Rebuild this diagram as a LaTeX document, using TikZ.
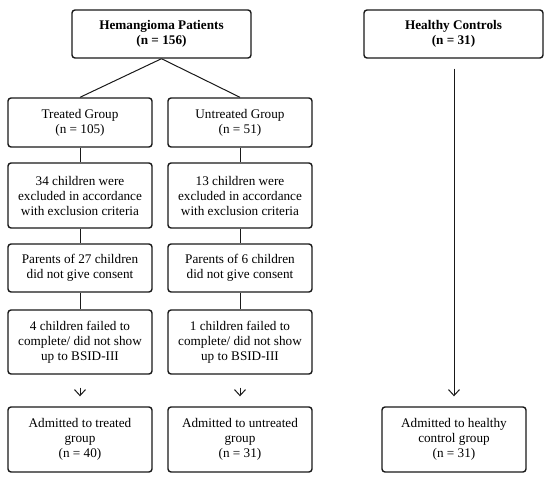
\documentclass[tikz,border=0pt]{standalone}
\usepackage{fontspec}
\setmainfont{Liberation Serif}
\usetikzlibrary{arrows.meta}
\begin{document}
\begin{tikzpicture}[x=1pt,y=-1pt,
  box/.style={draw=black!90, line width=1.4pt, rounded corners=3pt, align=center,
    font=\fontsize{13.2}{15}\selectfont, inner sep=0pt},
  conn/.style={draw=black!90, line width=1pt},
  arr/.style={conn, -{Straight Barb[length=6pt,width=11pt,line width=1pt]}}]
\useasboundingbox (0,0) rectangle (550,480);
\node[box, minimum width=179pt, minimum height=48pt, font=\fontsize{13.2}{15}\selectfont\bfseries] (hp) at (161.5,34) {Hemangioma Patients\\(n = 156)};
\node[box, minimum width=179pt, minimum height=48pt, font=\fontsize{13.2}{15}\selectfont\bfseries] (hc) at (453.5,34) {Healthy Controls\\(n = 31)};
\node[box, minimum width=144pt, minimum height=49pt] (tg) at (80,122.5) {Treated Group\\(n = 105)};
\node[box, minimum width=144pt, minimum height=49pt] (ug) at (240,122.5) {Untreated Group\\(n = 51)};
\node[box, minimum width=144pt, minimum height=65pt] (te) at (80,195.5) {34 children were\\excluded in accordance\\with exclusion criteria};
\node[box, minimum width=144pt, minimum height=65pt] (ue) at (240,195.5) {13 children were\\excluded in accordance\\with exclusion criteria};
\node[box, minimum width=144pt, minimum height=48pt] (tp) at (80,268) {Parents of 27 children\\did not give consent};
\node[box, minimum width=144pt, minimum height=48pt] (up) at (240,268) {Parents of 6 children\\did not give consent};
\node[box, minimum width=144pt, minimum height=64pt] (tf) at (80,342) {4 children failed to\\complete/ did not show\\up to BSID-III};
\node[box, minimum width=144pt, minimum height=64pt] (uf) at (240,342) {1 children failed to\\complete/ did not show\\up to BSID-III};
\node[box, minimum width=144pt, minimum height=65pt] (ta) at (80,439.5) {Admitted to treated\\group\\(n = 40)};
\node[box, minimum width=144pt, minimum height=65pt] (ua) at (240,439.5) {Admitted to untreated\\group\\(n = 31)};
\node[box, minimum width=144pt, minimum height=65pt] (ha) at (454,439.5) {Admitted to healthy\\control group\\(n = 31)};
\draw[conn] (hp.south) -- (tg.north);
\draw[conn] (hp.south) -- (ug.north);
\draw[conn] (tg) -- (te);
\draw[conn] (te) -- (tp);
\draw[conn] (tp) -- (tf);
\draw[conn] (ug) -- (ue);
\draw[conn] (ue) -- (up);
\draw[conn] (up) -- (uf);
\draw[arr, shorten <=13pt, shorten >=10pt] (tf) -- (ta);
\draw[arr, shorten <=13pt, shorten >=10pt] (uf) -- (ua);
\draw[arr, shorten <=10pt, shorten >=10pt] (hc.south -| ha.north) -- (ha.north);
\end{tikzpicture}
\end{document}
